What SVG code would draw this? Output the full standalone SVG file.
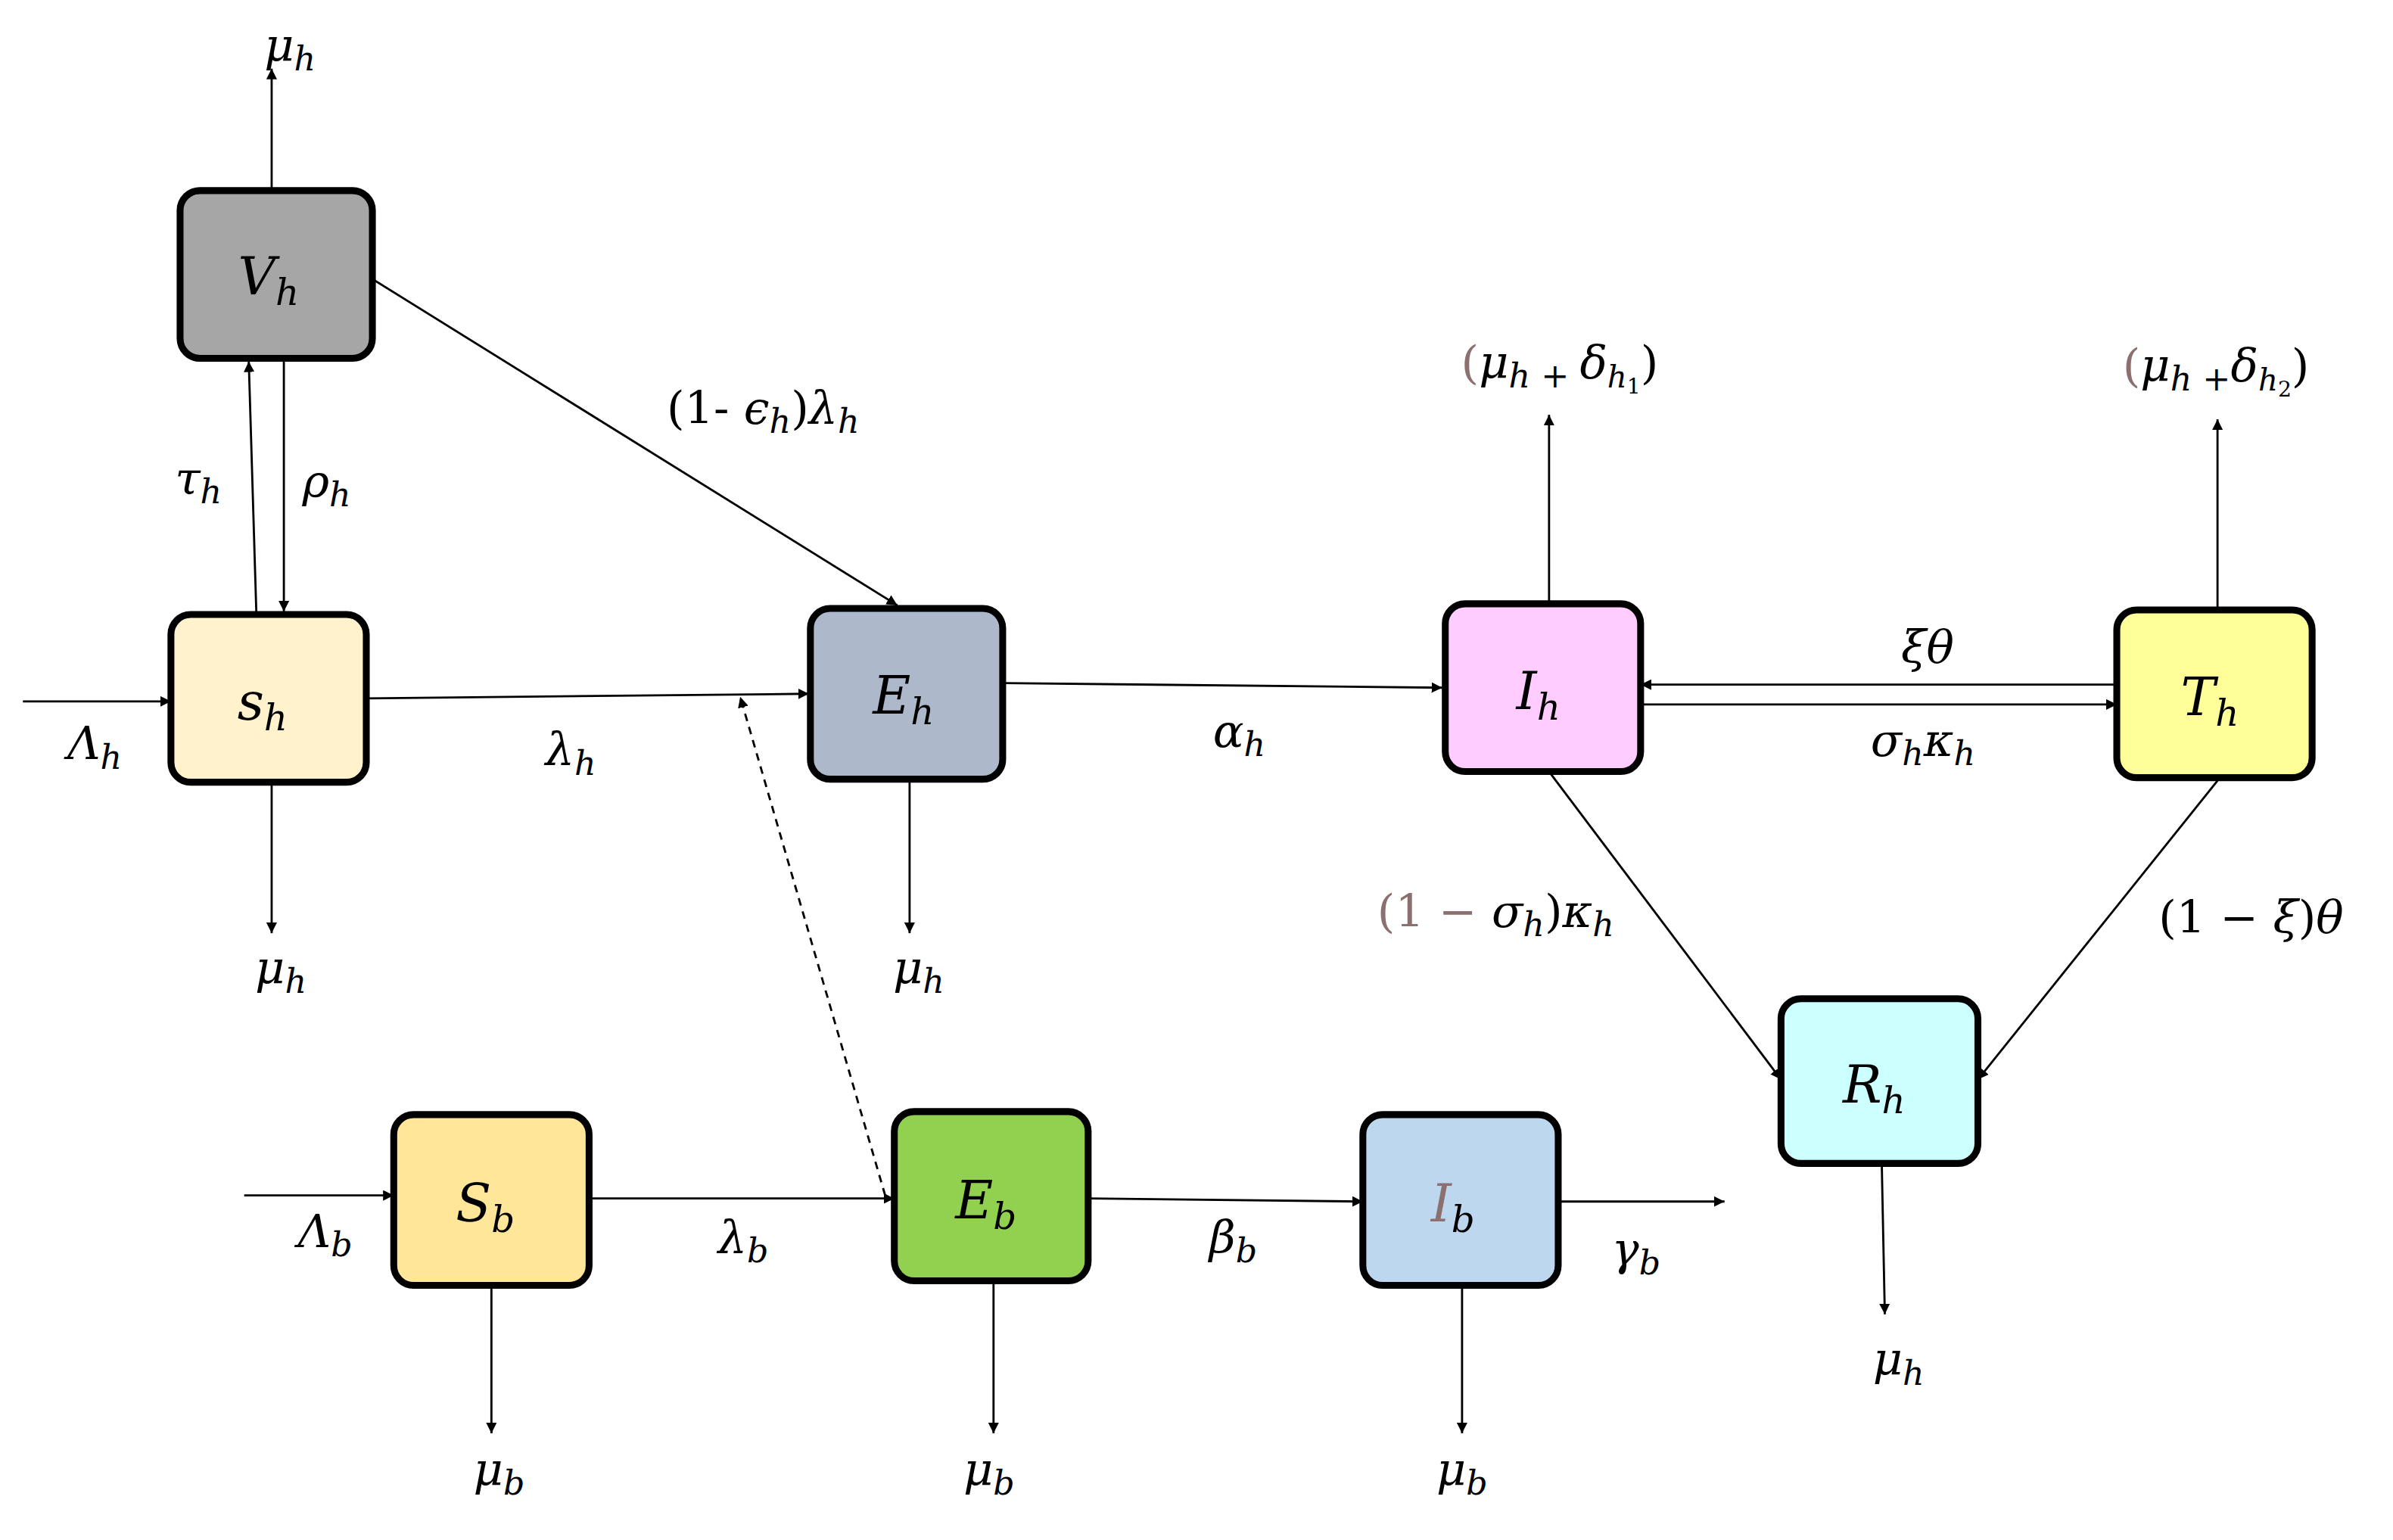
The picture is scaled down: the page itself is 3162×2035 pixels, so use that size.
<svg xmlns="http://www.w3.org/2000/svg" width="3162" height="2035" viewBox="0 0 3162 2035">
<defs>
<marker id="a" viewBox="0 0 10 10" refX="10" refY="5" markerWidth="7" markerHeight="7" markerUnits="userSpaceOnUse" orient="auto"><path d="M0,0L10,5L0,10z" fill="#000"/></marker>
<style>
.b{stroke:#000;stroke-width:4.5}
.c line{stroke:#000;stroke-width:1.4;marker-end:url(#a)}
text{font-family:"DejaVu Serif","Liberation Serif",serif;font-style:italic;font-size:30px;fill:#000;text-anchor:middle}
.n{font-size:34px}
.u{font-style:normal}
.br{fill:#8c6f6f;font-style:normal}
</style>
</defs>
<rect width="3162" height="2035" fill="#fff"/>
<g transform="scale(2.0166 2.0149)">
<g class="c" id="connectors">
<line x1="178" y1="125" x2="178" y2="45"/>
<line x1="244" y1="183" x2="588" y2="397"/>
<line x1="168" y1="403" x2="163" y2="237"/>
<line x1="186" y1="237" x2="186" y2="401"/>
<line x1="15" y1="460" x2="112" y2="460"/>
<line x1="240" y1="458" x2="530" y2="455"/>
<line x1="178" y1="513" x2="178" y2="612"/>
<line x1="596" y1="511" x2="596" y2="612"/>
<line x1="657" y1="448" x2="945" y2="451"/>
<line x1="1015" y1="396" x2="1015" y2="272"/>
<line x1="1387" y1="449" x2="1075" y2="449"/>
<line x1="1075" y1="462" x2="1387" y2="462"/>
<line x1="1453" y1="400" x2="1453" y2="275"/>
<line x1="1015" y1="506" x2="1167" y2="708"/>
<line x1="1453" y1="512" x2="1296" y2="708"/>
<line x1="1233" y1="763" x2="1235" y2="862"/>
<line x1="580" y1="784" x2="485" y2="457" stroke-dasharray="5 4"/>
<line x1="160" y1="784" x2="258" y2="784"/>
<line x1="386" y1="786" x2="586" y2="786"/>
<line x1="713" y1="786" x2="893" y2="788"/>
<line x1="1021" y1="788" x2="1130" y2="788"/>
<line x1="322" y1="843" x2="322" y2="940"/>
<line x1="651" y1="840" x2="651" y2="940"/>
<line x1="958" y1="843" x2="958" y2="940"/>
</g>
<g id="Vh"><rect class="b" x="118" y="125" width="126" height="110" rx="13" fill="#a6a6a6"/><text class="n" x="176" y="193">V<tspan font-size="24" dy="7">h</tspan></text></g>
<g id="Sh"><rect class="b" x="112" y="403" width="128" height="110" rx="13" fill="#fff2cc"/><text class="n" x="172" y="472">s<tspan font-size="24" dy="7">h</tspan></text></g>
<g id="Eh"><rect class="b" x="531" y="399" width="126" height="112" rx="13" fill="#adb9ca"/><text class="n" x="592" y="468">E<tspan font-size="24" dy="7">h</tspan></text></g>
<g id="Ih"><rect class="b" x="947" y="396" width="128" height="110" rx="13" fill="#ffccff"/><text class="n" x="1008" y="465">I<tspan font-size="24" dy="7">h</tspan></text></g>
<g id="Th"><rect class="b" x="1387" y="400" width="128" height="110" rx="13" fill="#ffff99"/><text class="n" x="1448" y="469">T<tspan font-size="24" dy="7">h</tspan></text></g>
<g id="Rh"><rect class="b" x="1167" y="655" width="129" height="108" rx="13" fill="#ccffff"/><text class="n" x="1228" y="723">R<tspan font-size="24" dy="7">h</tspan></text></g>
<g id="Sb"><rect class="b" x="258" y="731" width="128" height="112" rx="13" fill="#ffe699"/><text class="n" x="318" y="801">S<tspan font-size="24" dy="7">b</tspan></text></g>
<g id="Eb"><rect class="b" x="586" y="729" width="127" height="111" rx="13" fill="#92d050"/><text class="n" x="646" y="799">E<tspan font-size="24" dy="7">b</tspan></text></g>
<g id="Ib"><rect class="b" x="893" y="731" width="128" height="112" rx="13" fill="#bdd7ee"/><text class="n" x="952" y="801"><tspan fill="#8c6f6f">I</tspan><tspan font-size="24" dy="7">b</tspan></text></g>
<g id="labels">
<text x="190" y="40">μ<tspan font-size="22" dy="6">h</tspan></text>
<text x="500" y="278"><tspan class="u">(1- </tspan>ϵ<tspan font-size="22" dy="6">h</tspan><tspan dy="-6" class="u">)</tspan>λ<tspan font-size="22" dy="6">h</tspan></text>
<text x="130" y="324">τ<tspan font-size="22" dy="6">h</tspan></text>
<text x="214" y="326">ρ<tspan font-size="22" dy="6">h</tspan></text>
<text x="62" y="498">Λ<tspan font-size="22" dy="6">h</tspan></text>
<text x="374" y="502">λ<tspan font-size="22" dy="6">h</tspan></text>
<text x="184" y="645">μ<tspan font-size="22" dy="6">h</tspan></text>
<text x="602" y="645">μ<tspan font-size="22" dy="6">h</tspan></text>
<text x="812" y="490">α<tspan font-size="22" dy="6">h</tspan></text>
<text x="1022" y="248"><tspan class="br">(</tspan>μ<tspan font-size="22" dy="6">h</tspan><tspan class="u" font-size="22"> + </tspan><tspan dy="-6">δ</tspan><tspan font-size="20" dy="6">h</tspan><tspan font-size="14" dy="4" class="u">1</tspan><tspan dy="-10" class="u">)</tspan></text>
<text x="1452" y="250"><tspan class="br">(</tspan>μ<tspan font-size="22" dy="6">h</tspan><tspan class="u" font-size="22"> +</tspan><tspan dy="-6">δ</tspan><tspan font-size="20" dy="6">h</tspan><tspan font-size="14" dy="4" class="u">2</tspan><tspan dy="-10" class="u">)</tspan></text>
<text x="1263" y="435">ξθ</text>
<text x="1260" y="496">σ<tspan font-size="22" dy="6">h</tspan><tspan dy="-6">κ</tspan><tspan font-size="22" dy="6">h</tspan></text>
<text x="980" y="608"><tspan class="br">(1 − </tspan>σ<tspan font-size="22" dy="6">h</tspan><tspan dy="-6" class="u">)</tspan>κ<tspan font-size="22" dy="6">h</tspan></text>
<text x="1475" y="612"><tspan class="u">(1 − </tspan>ξ<tspan class="u">)</tspan>θ</text>
<text x="1244" y="902">μ<tspan font-size="22" dy="6">h</tspan></text>
<text x="213" y="818">Λ<tspan font-size="22" dy="6">b</tspan></text>
<text x="487" y="822">λ<tspan font-size="22" dy="6">b</tspan></text>
<text x="808" y="822">β<tspan font-size="22" dy="6">b</tspan></text>
<text x="1072" y="830">γ<tspan font-size="22" dy="6">b</tspan></text>
<text x="327" y="974">μ<tspan font-size="22" dy="6">b</tspan></text>
<text x="648" y="974">μ<tspan font-size="22" dy="6">b</tspan></text>
<text x="958" y="974">μ<tspan font-size="22" dy="6">b</tspan></text>
</g>
</g>
</svg>
